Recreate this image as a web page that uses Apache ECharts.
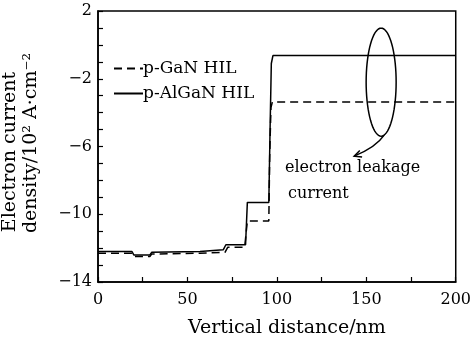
<!DOCTYPE html>
<html>
<head>
<meta charset="utf-8">
<script src="https://cdn.jsdelivr.net/npm/echarts@6/dist/echarts.min.js"></script>
<style>
  html, body { margin: 0; padding: 0; background: #fff; }
  #chart { width: 474px; height: 343px; }
</style>
</head>
<body>
<div id="chart"></div>
<script>
// Electron current density along the vertical distance for two hole-injection layers
const seriesNames = ['p-GaN HIL', 'p-AlGaN HIL'];

// [distance (nm), current density (10^2 A·cm^-2)]
const pGaN = [
  [0, -12.3], [19, -12.3], [20, -12.5], [29, -12.5], [30, -12.35], [57, -12.3],
  [58, -12.25], [71, -12.25], [72.5, -11.95], [82, -11.95], [83.5, -10.4],
  [95.5, -10.4], [96, -6.5], [96.7, -3.7], [97.5, -3.37], [200, -3.37]
];
const pAlGaN = [
  [0, -12.2], [19, -12.2], [20, -12.4], [29, -12.4], [30, -12.25], [57, -12.2],
  [58, -12.1], [70, -12.1], [71.5, -11.8], [82.5, -11.8], [83.5, -9.3],
  [95.5, -9.3], [96.2, -5], [96.9, -1.1], [97.8, -0.63], [200, -0.63]
];

const xTicks = [0, 50, 100, 150, 200];
const yTicks = [-14, -10, -6, -2, 2];

const serif = 'DejaVu Serif';
const chart = echarts.init(document.getElementById('chart'), null, { renderer: 'canvas' });

const fmtNum = v => (v < 0 ? '\u2212' + Math.abs(v) : String(v));

chart.setOption({
  animation: false,
  backgroundColor: '#fff',
  grid: { left: 98, right: 16, top: 11, bottom: 58, show: true, borderColor: '#000', borderWidth: 1.5 },
  legend: {
    orient: 'vertical', left: 108, top: 55, itemWidth: 29, itemHeight: 10, itemGap: 8,
    itemStyle: { opacity: 0 },
    textStyle: { fontFamily: serif, fontSize: 17, color: '#000', padding: [0, 0, 0, -5] },
    data: seriesNames
  },
  xAxis: {
    type: 'value', min: xTicks[0], max: xTicks[xTicks.length - 1], interval: 50,
    name: 'Vertical distance/nm', nameLocation: 'middle', nameGap: 37,
    nameTextStyle: { fontFamily: serif, fontSize: 19, color: '#000', padding: [0, 0, 0, 20] },
    axisLine: { onZero: false, lineStyle: { color: '#000', width: 1.5 } },
    axisTick: { inside: true, length: 5, lineStyle: { color: '#000', width: 1.2 } },
    minorTick: { show: true, splitNumber: 2, length: 5, lineStyle: { color: '#000', width: 1.2 } },
    axisLabel: { fontFamily: serif, fontSize: 16, color: '#000', margin: 10, formatter: fmtNum },
    splitLine: { show: false }
  },
  yAxis: {
    type: 'value', min: yTicks[0], max: yTicks[yTicks.length - 1], interval: 4,
    axisLine: { onZero: false, lineStyle: { color: '#000', width: 1.5 } },
    axisTick: { inside: true, length: 5, lineStyle: { color: '#000', width: 1.2 } },
    minorTick: { show: true, splitNumber: 4, length: 5, lineStyle: { color: '#000', width: 1.2 } },
    axisLabel: { fontFamily: serif, fontSize: 16, color: '#000', margin: 6, formatter: fmtNum },
    splitLine: { show: false }
  },
  series: [
    {
      name: seriesNames[0], type: 'line', data: pGaN, symbol: 'none', z: 3,
      itemStyle: { color: '#000' },
      lineStyle: { color: '#000', width: 1.5, type: [8, 5] }
    },
    {
      name: seriesNames[1], type: 'line', data: pAlGaN, symbol: 'none', z: 3,
      itemStyle: { color: '#000' },
      lineStyle: { color: '#000', width: 1.5, type: 'solid' }
    }
  ]
});

// Annotation: ellipse around the two plateaus, an arrow and its caption
function drawAnnotation() {
  const c = chart.convertToPixel({ gridIndex: 0 }, [158.3, -2.2]);
  const rx = 15, ry = 54;
  const pts = [];
  for (let i = 0; i <= 72; i++) {
    const t = (i / 72) * Math.PI * 2;
    pts.push([c[0] + rx * Math.cos(t), c[1] + ry * Math.sin(t)]);
  }
  const start = [c[0] + 3, c[1] + ry - 1];
  const tip = [c[0] - 27, c[1] + 74];
  const ah = 8;
  const ang = Math.atan2(tip[1] - (start[1] + 14), tip[0] - (start[0] - 10));
  const wing = a => [tip[0] - ah * Math.cos(ang + a), tip[1] - ah * Math.sin(ang + a)];
  chart.setOption({
    graphic: [
      { type: 'polyline', shape: { points: pts }, style: { stroke: '#000', lineWidth: 1.5, fill: null }, z: 10 },
      { type: 'bezierCurve',
        shape: { x1: start[0], y1: start[1], x2: tip[0], y2: tip[1],
                 cpx1: start[0] - 8, cpy1: start[1] + 12 },
        style: { stroke: '#000', lineWidth: 1.5, fill: null }, z: 10 },
      { type: 'polyline', shape: { points: [wing(0.45), tip, wing(-0.45)] },
        style: { stroke: '#000', lineWidth: 1.5, fill: null }, z: 10 },
      { type: 'text', left: 285, top: 160,
        style: { text: 'electron leakage', font: '16px "' + serif + '"', fill: '#000' }, z: 10 },
      { type: 'text', left: 288, top: 186,
        style: { text: 'current', font: '16px "' + serif + '"', fill: '#000' }, z: 10 },
      { type: 'text', rotation: Math.PI / 2, x: 1, y: 152,
        style: { text: 'Electron current', font: '19px "' + serif + '"', fill: '#000',
                 align: 'center', verticalAlign: 'top' }, z: 10 },
      { type: 'text', rotation: Math.PI / 2, x: 22, y: 143,
        style: { text: 'density/10\u00B2 A\u00B7cm\u207B\u00B2', font: '19px "' + serif + '"', fill: '#000',
                 align: 'center', verticalAlign: 'top' }, z: 10 }
    ]
  });
}
drawAnnotation();
</script>
</body>
</html>
